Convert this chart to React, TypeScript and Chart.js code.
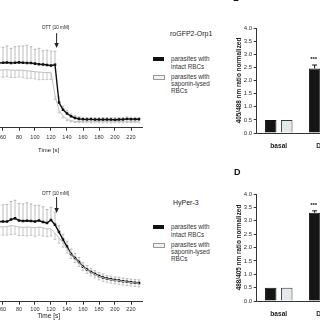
import React, { useEffect, useRef } from "react";
import { Chart, registerables } from "chart.js";

Chart.register(...registerables);

const FONT = "'Liberation Sans', Arial, Helvetica, sans-serif";

// ---------- time course data (s) ----------
const timeS = [55, 60, 65, 70, 75, 80, 85, 90, 95, 100, 105, 110, 115, 120, 125, 130, 135, 140, 145, 150, 155, 160, 165, 170, 175, 180, 185, 190, 195, 200, 205, 210, 215, 220, 225, 230];
const xTickValues = [0, 20, 40, 60, 80, 100, 120, 140, 160, 180, 200, 220];
const dttTime = 127;

// roGFP2-Orp1 (405/488 nm ratio, arbitrary)
const roIntact = [0.72, 0.722, 0.725, 0.72, 0.722, 0.726, 0.722, 0.72, 0.718, 0.712, 0.706, 0.703, 0.697, 0.69, 0.7, 0.28, 0.2, 0.158, 0.128, 0.108, 0.098, 0.094, 0.092, 0.093, 0.09, 0.091, 0.09, 0.092, 0.09, 0.089, 0.091, 0.092, 0.097, 0.095, 0.094, 0.094];
const roIntactErr = [0.17, 0.171, 0.183, 0.162, 0.178, 0.182, 0.186, 0.195, 0.182, 0.159, 0.176, 0.153, 0.166, 0.162, 0.15, 0.06, 0.04, 0.03, 0.025, 0.025, 0.022, 0.022, 0.02, 0.022, 0.02, 0.02, 0.022, 0.02, 0.02, 0.022, 0.02, 0.02, 0.022, 0.02, 0.02, 0.02];
const roLysed = [0.64, 0.642, 0.645, 0.64, 0.638, 0.64, 0.637, 0.632, 0.628, 0.622, 0.618, 0.615, 0.613, 0.61, 0.36, 0.195, 0.13, 0.095, 0.078, 0.07, 0.068, 0.067, 0.068, 0.066, 0.067, 0.068, 0.066, 0.067, 0.066, 0.067, 0.068, 0.067, 0.066, 0.067, 0.068, 0.067];
const roLysedErr = [0.075, 0.08, 0.078, 0.082, 0.08, 0.076, 0.08, 0.083, 0.078, 0.08, 0.085, 0.08, 0.078, 0.075, 0.05, 0.03, 0.02, 0.015, 0.012, 0.012, 0.012, 0.012, 0.012, 0.012, 0.012, 0.012, 0.012, 0.012, 0.012, 0.012, 0.012, 0.012, 0.012, 0.012, 0.012, 0.012];

// HyPer-3 (488/405 nm ratio, arbitrary)
const hyIntact = [0.889, 0.892, 0.89, 0.913, 0.927, 0.902, 0.897, 0.9, 0.896, 0.891, 0.902, 0.885, 0.874, 0.908, 0.855, 0.774, 0.69, 0.612, 0.53, 0.486, 0.441, 0.389, 0.358, 0.33, 0.308, 0.286, 0.269, 0.258, 0.249, 0.241, 0.236, 0.228, 0.221, 0.216, 0.211, 0.208];
const hyIntactErr = [0.18, 0.185, 0.19, 0.2, 0.2, 0.19, 0.19, 0.2, 0.19, 0.18, 0.17, 0.17, 0.15, 0.14, 0.14, 0.07, 0.06, 0.06, 0.055, 0.05, 0.05, 0.045, 0.045, 0.04, 0.04, 0.04, 0.04, 0.035, 0.035, 0.035, 0.035, 0.035, 0.035, 0.035, 0.035, 0.035];
const hyLysed = [0.833, 0.83, 0.835, 0.845, 0.84, 0.83, 0.825, 0.83, 0.827, 0.822, 0.83, 0.82, 0.808, 0.81, 0.76, 0.71, 0.655, 0.59, 0.525, 0.48, 0.436, 0.385, 0.354, 0.326, 0.304, 0.282, 0.266, 0.255, 0.246, 0.238, 0.233, 0.225, 0.219, 0.213, 0.209, 0.205];
const hyLysedErr = [0.09, 0.09, 0.095, 0.1, 0.09, 0.095, 0.09, 0.1, 0.09, 0.095, 0.09, 0.09, 0.085, 0.08, 0.07, 0.06, 0.05, 0.05, 0.045, 0.045, 0.045, 0.04, 0.04, 0.04, 0.04, 0.04, 0.04, 0.04, 0.04, 0.04, 0.04, 0.04, 0.04, 0.04, 0.04, 0.04];

// ---------- bar data ----------
const barCategories = ["basal", "DTT"];
const roBarIntact = [0.5, 2.46];
const roBarIntactErr = [0, 0.13];
const roBarLysed = [0.5, 0.55];
const roBarLysedErr = [0, 0.05];
const roBarStars = ["", "***"];
const hyBarIntact = [0.5, 3.3];
const hyBarIntactErr = [0, 0.07];
const hyBarLysed = [0.5, 0.55];
const hyBarLysedErr = [0, 0.05];
const hyBarStars = ["", "***"];

const seriesNames = ["parasites with intact RBCs", "parasites with saponin-lysed RBCs"];

// ---------- plugins ----------
const lineExtras = {
  id: "lineExtras",
  beforeDatasetsDraw(chart: any) {
    const { ctx, scales } = chart;
    const y = scales.y;
    chart.data.datasets.forEach((ds: any, i: number) => {
      const meta = chart.getDatasetMeta(i);
      ctx.save();
      ctx.strokeStyle = ds.errColor;
      ctx.lineWidth = 0.7;
      meta.data.forEach((pt: any, j: number) => {
        const v = ds.data[j].y;
        const e = ds.errors[j];
        const y2 = y.getPixelForValue(v + ds.errSign * e);
        ctx.beginPath();
        ctx.moveTo(pt.x, pt.y);
        ctx.lineTo(pt.x, y2);
        ctx.moveTo(pt.x - 1.4, y2);
        ctx.lineTo(pt.x + 1.4, y2);
        ctx.stroke();
      });
      ctx.restore();
    });
  },
  afterDraw(chart: any, _args: any, opts: any) {
    const { ctx, scales } = chart;
    const x = scales.x.getPixelForValue(opts.at);
    const yT = scales.y.getPixelForValue(opts.labelAt);
    const y1 = scales.y.getPixelForValue(opts.arrowFrom);
    const y2 = scales.y.getPixelForValue(opts.arrowTo);
    ctx.save();
    ctx.fillStyle = "#222";
    ctx.strokeStyle = "#222";
    ctx.font = `4.6px ${FONT}`;
    ctx.textAlign = "center";
    ctx.textBaseline = "middle";
    ctx.fillText(opts.text, x - 1, yT);
    ctx.lineWidth = 1;
    ctx.beginPath();
    ctx.moveTo(x, y1);
    ctx.lineTo(x, y2 - 4);
    ctx.stroke();
    ctx.beginPath();
    ctx.moveTo(x - 2.2, y2 - 5);
    ctx.lineTo(x + 2.2, y2 - 5);
    ctx.lineTo(x, y2);
    ctx.closePath();
    ctx.fill();
    ctx.restore();
  },
};

const barExtras = {
  id: "barExtras",
  afterDatasetsDraw(chart: any) {
    const { ctx, scales } = chart;
    chart.data.datasets.forEach((ds: any, i: number) => {
      const meta = chart.getDatasetMeta(i);
      meta.data.forEach((bar: any, j: number) => {
        const v = ds.data[j];
        const e = ds.errors[j];
        ctx.save();
        ctx.strokeStyle = "#111";
        ctx.lineWidth = 1;
        if (e > 0) {
          const yTop = scales.y.getPixelForValue(v + e);
          ctx.beginPath();
          ctx.moveTo(bar.x, bar.y);
          ctx.lineTo(bar.x, yTop);
          ctx.moveTo(bar.x - 2.5, yTop);
          ctx.lineTo(bar.x + 2.5, yTop);
          ctx.stroke();
        }
        const s = ds.stars ? ds.stars[j] : "";
        if (s) {
          ctx.fillStyle = "#111";
          ctx.font = `bold 6px ${FONT}`;
          ctx.textAlign = "center";
          ctx.textBaseline = "middle";
          ctx.fillText(s, bar.x - 1, scales.y.getPixelForValue(v + e) - 6);
        }
        ctx.restore();
      });
    });
  },
};

// ---------- components ----------
type LineProps = {
  top: number;
  intact: number[];
  intactErr: number[];
  lysed: number[];
  lysedErr: number[];
  padTop: number;
  padBottom: number;
  axisH: number;
  tickPad: number;
  titleSize: number;
  annot: { labelAt: number; arrowFrom: number; arrowTo: number };
};

function TimeCourse(p: LineProps) {
  const ref = useRef<HTMLCanvasElement>(null);
  useEffect(() => {
    if (!ref.current) return;
    const chart = new Chart(ref.current, {
      type: "line",
      data: {
        datasets: [
          {
            label: seriesNames[1],
            data: timeS.map((t, i) => ({ x: t, y: p.lysed[i] })),
            borderColor: "#bcc1c1",
            borderWidth: 1,
            pointRadius: 0,
            errors: p.lysedErr,
            errSign: -1,
            errColor: "#b0b0b0",
          } as any,
          {
            label: seriesNames[0],
            data: timeS.map((t, i) => ({ x: t, y: p.intact[i] })),
            borderColor: "#111",
            backgroundColor: "#111",
            borderWidth: 1.4,
            pointRadius: 0.8,
            pointStyle: "rect",
            errors: p.intactErr,
            errSign: 1,
            errColor: "#a0a0a0",
          } as any,
        ],
      },
      options: {
        animation: false,
        responsive: false,
        devicePixelRatio: 1,
        layout: { padding: { left: 15, right: 7.8, top: p.padTop, bottom: p.padBottom } },
        plugins: {
          legend: { display: false },
          tooltip: { enabled: false },
          lineExtras: { at: dttTime, text: "DTT [10 mM]", ...p.annot },
        } as any,
        scales: {
          x: {
            type: "linear",
            min: 0,
            max: 234,
            afterBuildTicks: (s: any) => {
              s.ticks = xTickValues.map((v) => ({ value: v }));
            },
            afterFit: (s: any) => {
              s.height = p.axisH;
            },
            ticks: {
              autoSkip: false,
              color: "#333",
              padding: p.tickPad,
              maxRotation: 0,
              font: { family: FONT, size: 5.6 },
            },
            grid: { drawOnChartArea: false, drawTicks: true, tickLength: 3, color: "#333" },
            border: { display: true, color: "#333", width: 1 },
            title: {
              display: true,
              text: "Time [s]",
              color: "#222",
              padding: { top: 0, bottom: 0 },
              font: { family: FONT, size: p.titleSize },
            },
          },
          y: { display: false, min: 0, max: 1.2 },
        },
      },
      plugins: [lineExtras],
    });
    return () => chart.destroy();
  }, []);
  return (
    <canvas
      ref={ref}
      width={210}
      height={160}
      style={{ position: "absolute", left: -60, top: p.top, width: 210, height: 160 }}
    />
  );
}

type BarProps = {
  top: number;
  intact: number[];
  intactErr: number[];
  lysed: number[];
  lysedErr: number[];
  stars: string[];
  yTitle: string;
  padTop: number;
  axisH: number;
};

function BarPanel(p: BarProps) {
  const ref = useRef<HTMLCanvasElement>(null);
  useEffect(() => {
    if (!ref.current) return;
    const chart = new Chart(ref.current, {
      type: "bar",
      data: {
        labels: barCategories,
        datasets: [
          {
            label: seriesNames[0],
            data: p.intact,
            backgroundColor: "#151515",
            borderColor: "#111",
            borderWidth: 1,
            categoryPercentage: 0.73,
            barPercentage: 0.72,
            errors: p.intactErr,
            stars: p.stars,
          } as any,
          {
            label: seriesNames[1],
            data: p.lysed,
            backgroundColor: "#e1e9ea",
            borderColor: "#3a3a3a",
            borderWidth: 1,
            categoryPercentage: 0.73,
            barPercentage: 0.72,
            errors: p.lysedErr,
          } as any,
        ],
      },
      options: {
        animation: false,
        responsive: false,
        devicePixelRatio: 1,
        layout: { padding: { left: 15, right: 15.3, top: p.padTop, bottom: 0 } },
        plugins: { legend: { display: false }, tooltip: { enabled: false } },
        scales: {
          x: {
            afterFit: (s: any) => {
              s.height = p.axisH;
            },
            ticks: {
              color: "#222",
              padding: 1,
              autoSkip: false,
              font: { family: FONT, size: 6.6, weight: "bold" },
            },
            grid: { display: false },
            border: { display: true, color: "#333", width: 1 },
          },
          y: {
            min: 0,
            max: 4,
            afterFit: (s: any) => {
              s.width = 21.7;
            },
            ticks: {
              stepSize: 0.5,
              color: "#333",
              padding: 1.5,
              font: { family: FONT, size: 6 },
              callback: (v: any) => Number(v).toFixed(1),
            },
            grid: { drawOnChartArea: false, drawTicks: true, tickLength: 3, color: "#333" },
            border: { display: true, color: "#333", width: 1 },
            title: {
              display: true,
              text: p.yTitle,
              color: "#222",
              padding: { top: 0, bottom: 0 },
              font: { family: FONT, size: 6.4, weight: "bold" },
            },
          },
        },
      },
      plugins: [barExtras],
    });
    return () => chart.destroy();
  }, []);
  return (
    <canvas
      ref={ref}
      width={140}
      height={160}
      style={{ position: "absolute", left: 220, top: p.top, width: 140, height: 160 }}
    />
  );
}

function Txt({ x, cy, size, children, bold, color }: any) {
  return (
    <div
      style={{
        position: "absolute",
        left: x,
        top: cy - size * 0.6,
        fontSize: size,
        lineHeight: `${size * 1.2}px`,
        fontFamily: FONT,
        fontWeight: bold ? "bold" : "normal",
        color: color || "#333",
        whiteSpace: "nowrap",
      }}
    >
      {children}
    </div>
  );
}

function Legend({ top }: { top: number }) {
  return (
    <>
      <div style={{ position: "absolute", left: 153, top: top + 57.3, width: 11, height: 3.5, background: "#111" }} />
      <Txt x={171} cy={top + 59} size={6.3}>parasites with</Txt>
      <Txt x={171} cy={top + 66.3} size={6.3}>intact RBCs</Txt>
      <div
        style={{
          position: "absolute",
          left: 153,
          top: top + 75,
          width: 10,
          height: 2.6,
          background: "#eef2f2",
          border: "0.8px solid #999",
        }}
      />
      <Txt x={171} cy={top + 76.5} size={6.3}>parasites with</Txt>
      <Txt x={171} cy={top + 83.8} size={6.3}>saponin-lysed</Txt>
      <Txt x={171} cy={top + 91} size={6.3}>RBCs</Txt>
    </>
  );
}

export default function App() {
  return (
    <div
      style={{
        position: "fixed",
        left: 0,
        top: 0,
        width: 320,
        height: 320,
        overflow: "hidden",
        background: "#fff",
      }}
    >
      <TimeCourse
        top={0}
        intact={roIntact}
        intactErr={roIntactErr}
        lysed={roLysed}
        lysedErr={roLysedErr}
        padTop={19.7}
        padBottom={5.8}
        axisH={26.5}
        tickPad={3}
        titleSize={6}
        annot={{ labelAt: 1.108, arrowFrom: 1.05, arrowTo: 0.886 }}
      />
      <TimeCourse
        top={160}
        intact={hyIntact}
        intactErr={hyIntactErr}
        lysed={hyLysed}
        lysedErr={hyLysedErr}
        padTop={33.7}
        padBottom={0}
        axisH={18.3}
        tickPad={1}
        titleSize={6.5}
        annot={{ labelAt: 1.204, arrowFrom: 1.163, arrowTo: 0.986 }}
      />
      <BarPanel
        top={0}
        intact={roBarIntact}
        intactErr={roBarIntactErr}
        lysed={roBarLysed}
        lysedErr={roBarLysedErr}
        stars={roBarStars}
        yTitle="405/488 nm ratio normalized"
        padTop={28}
        axisH={27}
      />
      <BarPanel
        top={160}
        intact={hyBarIntact}
        intactErr={hyBarIntactErr}
        lysed={hyBarLysed}
        lysedErr={hyBarLysedErr}
        stars={hyBarStars}
        yTitle="488/405 nm ratio normalized"
        padTop={34}
        axisH={19}
      />
      <Txt x={170} cy={34} size={7} color="#222">roGFP2-Orp1</Txt>
      <Txt x={173} cy={202.7} size={7} color="#222">HyPer-3</Txt>
      <Legend top={0} />
      <Legend top={168} />
      <Txt x={233} cy={-1.5} size={9} bold color="#111">B</Txt>
      <Txt x={234} cy={172} size={9} bold color="#111">D</Txt>
    </div>
  );
}
